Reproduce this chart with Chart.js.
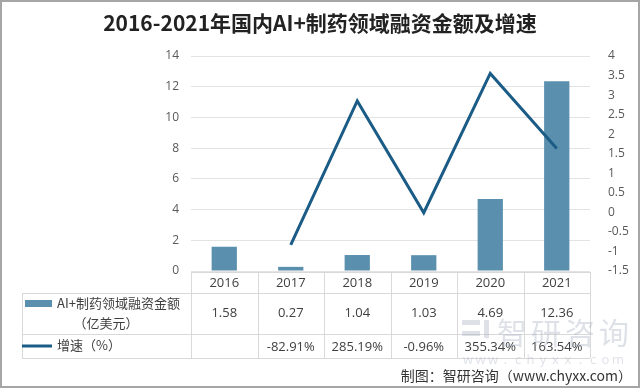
<!DOCTYPE html>
<html lang="zh">
<head>
    <meta charset="UTF-8">
    <title>2016-2021年国内AI+制药领域融资金额及增速</title>
    <script src="https://cdn.jsdelivr.net/npm/chart.js"></script>
    <style>
        html, body { margin: 0; padding: 0; background: #fff; }
        #wrap { width: 640px; height: 388px; position: relative; }
    </style>
</head>
<body>
<div id="wrap"><canvas id="chart"></canvas></div>
<script>
    // chart data
    const years = ['2016', '2017', '2018', '2019', '2020', '2021'];
    const amounts = [1.58, 0.27, 1.04, 1.03, 4.69, 12.36];      // 亿美元
    const growthPct = [null, -82.91, 285.19, -0.96, 355.34, 163.54]; // %

    const barName = 'AI+制药领域融资金额';
    const barUnit = '（亿美元）';
    const lineName = '增速（%）';

    const barColor = '#5a8fae';
    const lineColor = '#1b5c86';
    const cjk = '"Noto Sans CJK SC", "Noto Sans", sans-serif';
    const latin = '"Open Sans", "Noto Sans", sans-serif';

    // title, data table, watermark and source note drawn on the canvas
    const tablePlugin = {
        id: 'tablePlugin',
        afterDraw(chart) {
            const ctx = chart.ctx;
            const area = chart.chartArea;
            const x = chart.scales.x;
            const colW = x.getPixelForValue(1) - x.getPixelForValue(0);
            const tLeft = 22;
            const rowYear = area.bottom + 1, rowTop = 293, rowMid = 334, rowBot = 358;

            ctx.save();
            // title
            ctx.fillStyle = '#222';
            ctx.font = 'bold 21px ' + cjk;
            ctx.textAlign = 'center';
            ctx.textBaseline = 'middle';
            ctx.fillText('2016-2021年国内AI+制药领域融资金额及增速', 320, 23);

            // table grid
            ctx.strokeStyle = '#d9d9d9';
            ctx.lineWidth = 1;
            ctx.beginPath();
            ctx.moveTo(area.left, rowYear + 0.5); ctx.lineTo(area.right, rowYear + 0.5);
            ctx.moveTo(tLeft, rowTop + 0.5); ctx.lineTo(area.right, rowTop + 0.5);
            ctx.moveTo(tLeft, rowMid + 0.5); ctx.lineTo(area.right, rowMid + 0.5);
            ctx.moveTo(tLeft, rowBot + 0.5); ctx.lineTo(area.right, rowBot + 0.5);
            ctx.moveTo(tLeft + 0.5, rowTop); ctx.lineTo(tLeft + 0.5, rowBot);
            for (let i = 0; i <= years.length; i++) {
                const px = Math.round(x.getPixelForValue(i) - colW / 2) + 0.5;
                ctx.moveTo(px, rowYear); ctx.lineTo(px, rowBot);
            }
            ctx.stroke();

            // years and values
            ctx.fillStyle = '#404040';
            ctx.font = '13px ' + latin;
            years.forEach((y, i) => {
                const cx = x.getPixelForValue(i);
                ctx.fillText(y, cx, 283);
                ctx.fillText(amounts[i].toFixed(2), cx, 313);
                if (growthPct[i] !== null) {
                    ctx.fillText(growthPct[i].toFixed(2) + '%', cx, 347);
                }
            });

            // legend cells
            ctx.fillStyle = barColor;
            ctx.fillRect(25, 300, 27, 7);
            ctx.strokeStyle = lineColor;
            ctx.lineWidth = 3;
            ctx.beginPath();
            ctx.moveTo(22, 346); ctx.lineTo(52, 346);
            ctx.stroke();
            ctx.fillStyle = '#404040';
            ctx.font = '13px ' + cjk;
            ctx.textAlign = 'left';
            ctx.fillText(barName, 57, 303);
            ctx.fillText(lineName, 57, 345);
            ctx.textAlign = 'center';
            ctx.fillText(barUnit, 106, 323);

            // watermark
            ctx.fillStyle = 'rgba(160, 170, 185, 0.35)';
            ctx.font = '30px ' + cjk;
            ctx.textAlign = 'center';
            '智研咨询'.split('').forEach((c, i) => ctx.fillText(c, 512 + i * 34, 333));
            ctx.font = '13px ' + latin;
            'www.chyxx.com'.split('').forEach((c, i) => ctx.fillText(c, 468 + i * 12.5, 360));
            ctx.fillRect(462, 320, 18, 5);
            ctx.fillRect(462, 331, 18, 5);
            ctx.fillRect(484, 320, 5, 18);

            // source note
            ctx.fillStyle = '#333';
            ctx.font = '14px ' + cjk;
            ctx.textAlign = 'right';
            ctx.fillText('制图：智研咨询（www.chyxx.com）', 632, 376);

            // frame
            ctx.strokeStyle = '#a6a6a6';
            ctx.lineWidth = 2;
            ctx.strokeRect(1, 1, 638, 386);
            ctx.restore();
        }
    };

    new Chart(document.getElementById('chart'), {
        data: {
            labels: years,
            datasets: [
                {
                    type: 'line',
                    label: lineName,
                    data: growthPct.map(v => v === null ? null : v / 100),
                    yAxisID: 'y1',
                    borderColor: lineColor,
                    borderWidth: 3,
                    pointRadius: 0,
                    tension: 0,
                    order: 0
                },
                {
                    type: 'bar',
                    label: barName,
                    data: amounts,
                    yAxisID: 'y',
                    backgroundColor: barColor,
                    categoryPercentage: 1,
                    barPercentage: 0.38,
                    order: 1
                }
            ]
        },
        options: {
            responsive: true,
            maintainAspectRatio: false,
            animation: false,
            layout: { padding: { top: 56, bottom: 117, left: 0, right: 0 } },
            plugins: {
                legend: { display: false },
                title: { display: false },
                tooltip: { enabled: false }
            },
            scales: {
                x: { display: false, offset: true },
                y: {
                    position: 'left',
                    min: 0, max: 14,
                    ticks: { stepSize: 2, color: '#595959', font: { family: latin, size: 12 }, padding: 12 },
                    grid: { color: '#e3e3e3', drawTicks: false },
                    border: { display: false },
                    afterFit(s) { s.width = 191; }
                },
                y1: {
                    position: 'right',
                    min: -1.5, max: 4,
                    ticks: {
                        stepSize: 0.5, color: '#595959', font: { family: latin, size: 12 }, padding: 10,
                        callback: v => String(v)
                    },
                    grid: { display: false },
                    border: { display: false },
                    afterFit(s) { s.width = 50; }
                }
            }
        },
        plugins: [tablePlugin]
    });
</script>
</body>
</html>
